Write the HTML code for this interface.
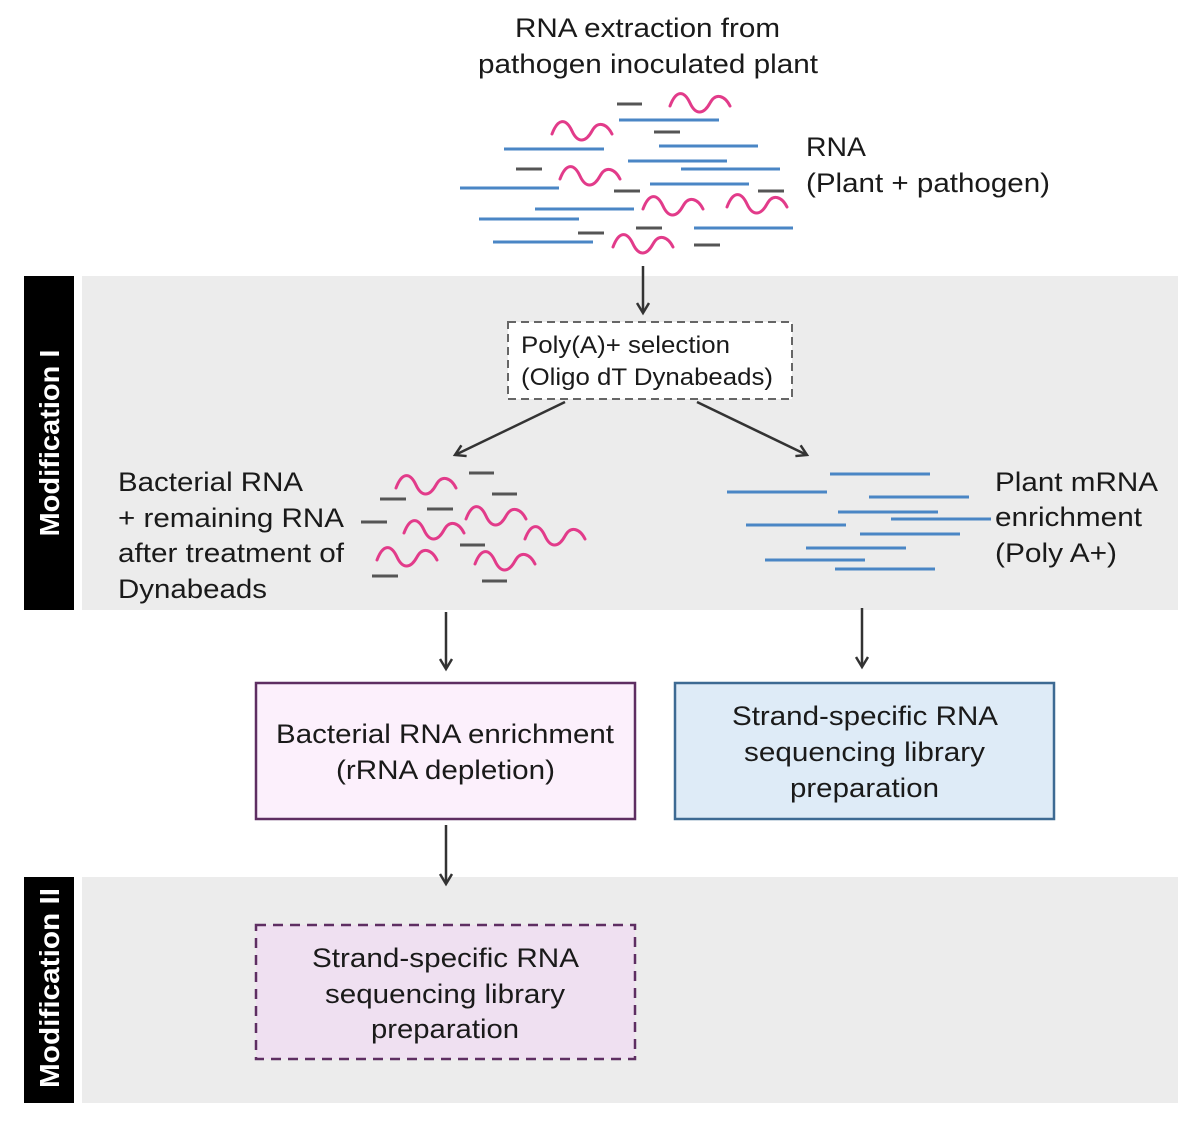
<!DOCTYPE html>
<html><head><meta charset="utf-8"><style>
html,body{margin:0;padding:0;background:#fff;}
svg{display:block;}
text{font-family:"Liberation Sans",sans-serif;fill:#1a1a1a;}
</style></head><body>
<svg width="1200" height="1128" viewBox="0 0 1200 1128" xmlns="http://www.w3.org/2000/svg">
<defs>
<marker id="ah" markerWidth="14" markerHeight="14" refX="11" refY="7" orient="auto" markerUnits="userSpaceOnUse">
<path d="M1,1 L11,7 L1,13" fill="none" stroke="#333" stroke-width="2.5"/>
</marker>
<path id="wv" d="M0,12 C6,-4 14,-4 20,9 C26,22 34,20 40,9 C46,-2 55,2 60,12" fill="none" stroke="#e23b8a" stroke-width="3" stroke-linecap="round"/>
</defs>

<rect x="82" y="276" width="1096" height="334" fill="#ececec"/>
<rect x="24" y="276" width="50" height="334" fill="#000"/>
<text transform="translate(59,443) rotate(-90)" text-anchor="middle" textLength="187" lengthAdjust="spacingAndGlyphs" style="fill:#fff;font-weight:bold;font-size:28px">Modification I</text>
<rect x="82" y="877" width="1096" height="226" fill="#ececec"/>
<rect x="24" y="877" width="50" height="226" fill="#000"/>
<text transform="translate(59,988) rotate(-90)" text-anchor="middle" textLength="200" lengthAdjust="spacingAndGlyphs" style="fill:#fff;font-weight:bold;font-size:28px">Modification II</text>

<g font-size="27" lengthAdjust="spacingAndGlyphs">
<text x="515" y="37" textLength="265" lengthAdjust="spacingAndGlyphs">RNA extraction from</text>
<text x="478" y="73" textLength="340" lengthAdjust="spacingAndGlyphs">pathogen inoculated plant</text>
<text x="806" y="156" textLength="60" lengthAdjust="spacingAndGlyphs">RNA</text>
<text x="806" y="192" textLength="244" lengthAdjust="spacingAndGlyphs">(Plant + pathogen)</text>
</g>

<g stroke="#4a86c5" stroke-width="3">
<line x1="619" y1="120" x2="719" y2="120"/><line x1="504" y1="149" x2="604" y2="149"/>
<line x1="659" y1="146" x2="758" y2="146"/><line x1="628" y1="161" x2="727" y2="161"/>
<line x1="681" y1="169" x2="780" y2="169"/><line x1="460" y1="188" x2="559" y2="188"/>
<line x1="650" y1="184" x2="749" y2="184"/><line x1="535" y1="209" x2="634" y2="209"/>
<line x1="479" y1="219" x2="579" y2="219"/><line x1="694" y1="228" x2="793" y2="228"/>
<line x1="493" y1="242" x2="593" y2="242"/>
</g>
<g stroke="#555" stroke-width="3">
<line x1="617" y1="104" x2="642" y2="104"/><line x1="654" y1="132" x2="680" y2="132"/>
<line x1="516" y1="169" x2="542" y2="169"/><line x1="614" y1="191" x2="640" y2="191"/>
<line x1="758" y1="191" x2="784" y2="191"/><line x1="578" y1="233" x2="604" y2="233"/>
<line x1="636" y1="228" x2="662" y2="228"/><line x1="694" y1="245" x2="720" y2="245"/>
</g>
<use href="#wv" x="670" y="94"/><use href="#wv" x="552" y="122"/>
<use href="#wv" x="560" y="167"/><use href="#wv" x="643" y="197"/>
<use href="#wv" x="727" y="195"/><use href="#wv" x="613" y="235"/>

<g stroke="#333" stroke-width="2.5" fill="none" marker-end="url(#ah)">
<line x1="643" y1="266" x2="643" y2="313"/>
<line x1="565" y1="402" x2="455" y2="455"/>
<line x1="697" y1="402" x2="807" y2="455"/>
<line x1="446" y1="612" x2="446" y2="669"/>
<line x1="862" y1="608" x2="862" y2="667"/>
<line x1="446" y1="825" x2="446" y2="884"/>
</g>

<rect x="508" y="322" width="284" height="77" fill="#fff" stroke="#666" stroke-width="2" stroke-dasharray="8,5"/>
<text x="521" y="353" font-size="24" textLength="209" lengthAdjust="spacingAndGlyphs">Poly(A)+ selection</text>
<text x="521" y="385" font-size="24" textLength="252" lengthAdjust="spacingAndGlyphs">(Oligo dT Dynabeads)</text>

<g font-size="27">
<text x="118" y="491" textLength="185" lengthAdjust="spacingAndGlyphs">Bacterial RNA</text>
<text x="118" y="527" textLength="226" lengthAdjust="spacingAndGlyphs">+ remaining RNA</text>
<text x="118" y="562" textLength="226" lengthAdjust="spacingAndGlyphs">after treatment of</text>
<text x="118" y="598" textLength="149" lengthAdjust="spacingAndGlyphs">Dynabeads</text>
<text x="995" y="491" textLength="163" lengthAdjust="spacingAndGlyphs">Plant mRNA</text>
<text x="995" y="526" textLength="147" lengthAdjust="spacingAndGlyphs">enrichment</text>
<text x="995" y="562" textLength="122" lengthAdjust="spacingAndGlyphs">(Poly A+)</text>
</g>

<g stroke="#555" stroke-width="3">
<line x1="469" y1="473" x2="494" y2="473"/><line x1="380" y1="499" x2="406" y2="499"/>
<line x1="492" y1="494" x2="517" y2="494"/><line x1="427" y1="509" x2="453" y2="509"/>
<line x1="361" y1="522" x2="387" y2="522"/><line x1="460" y1="545" x2="485" y2="545"/>
<line x1="372" y1="576" x2="398" y2="576"/><line x1="482" y1="581" x2="507" y2="581"/>
</g>
<use href="#wv" transform="translate(396,476)"/>
<use href="#wv" transform="translate(466,507)"/>
<use href="#wv" transform="translate(404,521)"/>
<use href="#wv" transform="translate(525,527)"/>
<use href="#wv" transform="translate(377,548)"/>
<use href="#wv" transform="translate(475,552)"/>

<g stroke="#4a86c5" stroke-width="3">
<line x1="830" y1="474" x2="930" y2="474"/><line x1="727" y1="492" x2="827" y2="492"/>
<line x1="869" y1="497" x2="969" y2="497"/><line x1="838" y1="512" x2="938" y2="512"/>
<line x1="891" y1="519" x2="991" y2="519"/><line x1="746" y1="525" x2="846" y2="525"/>
<line x1="860" y1="534" x2="960" y2="534"/><line x1="806" y1="548" x2="906" y2="548"/>
<line x1="765" y1="560" x2="865" y2="560"/><line x1="835" y1="569" x2="935" y2="569"/>
</g>

<rect x="256" y="683" width="379" height="136" fill="#fcf0fc" stroke="#5e2e62" stroke-width="2.5"/>
<g font-size="27">
<text x="276" y="743" textLength="338" lengthAdjust="spacingAndGlyphs">Bacterial RNA enrichment</text>
<text x="336" y="779" textLength="219" lengthAdjust="spacingAndGlyphs">(rRNA depletion)</text>
</g>

<rect x="675" y="683" width="379" height="136" fill="#deebf7" stroke="#3d6a93" stroke-width="2.5"/>
<g font-size="27">
<text x="732" y="725" textLength="266" lengthAdjust="spacingAndGlyphs">Strand-specific RNA</text>
<text x="744" y="761" textLength="241" lengthAdjust="spacingAndGlyphs">sequencing library</text>
<text x="790" y="797" textLength="149" lengthAdjust="spacingAndGlyphs">preparation</text>
</g>

<rect x="256" y="925" width="379" height="134" fill="#efe0f1" stroke="#5e2e62" stroke-width="2.5" stroke-dasharray="10,7"/>
<g font-size="27">
<text x="312" y="967" textLength="267" lengthAdjust="spacingAndGlyphs">Strand-specific RNA</text>
<text x="325" y="1003" textLength="240" lengthAdjust="spacingAndGlyphs">sequencing library</text>
<text x="371" y="1038" textLength="148" lengthAdjust="spacingAndGlyphs">preparation</text>
</g>
</svg>
</body></html>
